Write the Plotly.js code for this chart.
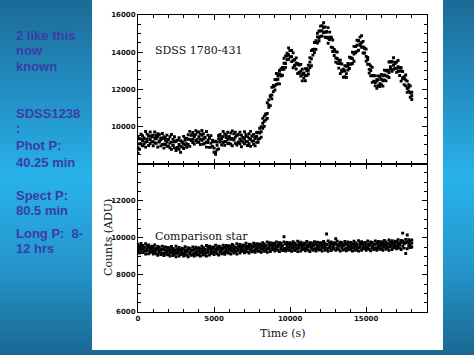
<!DOCTYPE html>
<html>
<head>
<meta charset="utf-8">
<script src="https://cdn.plot.ly/plotly-3.0.1.min.js"></script>
<style>
html,body{margin:0;padding:0;}
body{width:474px;height:355px;overflow:hidden;position:relative;
background:linear-gradient(180deg,#1c6a95 0%,#2289bd 22%,#28b2ea 50%,#2596cc 75%,#1a6892 100%);}
#panel{position:absolute;left:92px;top:0;width:351px;height:350px;background:#ffffff;}
#chart{position:absolute;left:0;top:0;width:474px;height:355px;}
</style>
</head>
<body>
<div id="panel"></div>
<div id="chart"></div>
<script>
// Observation times (s)
var time = [0,100,200,300,400,500,600,700,800,900,
1000,1100,1200,1300,1400,1500,1600,1700,1800,1900,
2000,2100,2200,2300,2400,2500,2600,2700,2800,2900,
3000,3100,3200,3300,3400,3500,3600,3700,3800,3900,
4000,4100,4200,4300,4400,4500,4600,4700,4800,4900,
5000,5100,5200,5300,5400,5500,5600,5700,5800,5900,
6000,6100,6200,6300,6400,6500,6600,6700,6800,6900,
7000,7100,7200,7300,7400,7500,7600,7700,7800,7900,
8000,8100,8200,8300,8400,8500,8600,8700,8800,8900,
9000,9100,9200,9300,9400,9500,9600,9700,9800,9900,
10000,10100,10200,10300,10400,10500,10600,10700,10800,10900,
11000,11100,11200,11300,11400,11500,11600,11700,11800,11900,
12000,12100,12200,12300,12400,12500,12600,12700,12800,12900,
13000,13100,13200,13300,13400,13500,13600,13700,13800,13900,
14000,14100,14200,14300,14400,14500,14600,14700,14800,14900,
15000,15100,15200,15300,15400,15500,15600,15700,15800,15900,
16000,16100,16200,16300,16400,16500,16600,16700,16800,16900,
17000,17100,17200,17300,17400,17500,17600,17700,17800,17900,
18000];

// Target star counts (ADU) - three samples per time step
var targetA = [9400,9330,9580,9500,9370,9720,9580,9500,9700,9500,
9520,9700,9510,9610,9560,9380,9620,9440,9390,9530,
9290,9440,9560,9300,9440,9220,9260,9390,9230,9160,
9460,9360,9350,9550,9730,9540,9670,9520,9770,9690,
9700,9580,9780,9600,9420,9720,9530,9400,9500,9250,
9170,9200,9160,9510,9560,9430,9720,9590,9540,9680,
9440,9640,9760,9600,9690,9520,9560,9690,9530,9410,
9710,9560,9450,9600,9730,9490,9570,9420,9670,9690,
9900,9980,10430,10550,10670,11270,11430,11650,12100,12200,
12520,12850,12710,13010,13110,13180,13670,13790,13940,14230,
14090,14090,13960,13600,13690,13370,13310,13340,13080,12860,
13110,13110,13300,13700,14080,14140,14520,14620,15020,15140,
15400,15430,15580,15350,15120,15320,15080,14800,14650,14150,
14020,14000,13560,13560,13360,13080,13270,13240,13390,13730,
13690,13990,14310,14300,14640,14620,14810,14890,14580,14210,
14160,13710,13350,13250,13180,12740,12720,12520,12720,12690,
12800,12730,13030,13000,13020,13470,13480,13500,13700,13450,
13470,13550,13160,13160,12960,12680,12770,12440,12240,12180,
11840];
var targetB = [8850,8770,9050,8950,9050,8880,9180,8970,9080,9170,
8960,9110,9090,8890,9160,8950,9030,8830,9040,8920,
8950,8840,8760,8970,8840,8700,8820,8760,8600,8900,
8810,8990,8870,9020,8920,9240,9130,9050,9240,9140,
9150,9020,9250,9050,9100,8880,9130,8870,8880,8920,
8610,8610,8740,8790,9160,9000,9130,8980,9190,9070,
9100,9040,8960,9270,9090,9000,9120,9060,8900,9150,
9060,9190,8970,9070,8920,9190,9030,8950,9140,9140,
9350,9420,9900,10000,10350,10430,11030,11120,11480,11870,
11960,12260,12290,12290,12710,12750,13080,13180,13590,13620,
13750,13490,13160,13270,13090,12850,12870,12710,12450,12600,
12460,12740,12820,13170,13270,13840,13980,14150,14490,14590,
14850,14870,15050,14800,14800,14480,14680,14270,14030,13820,
13460,13410,13140,12840,12960,12650,12680,12630,13040,13120,
13350,13390,13510,13970,14040,14100,14370,14260,13950,13950,
13510,13340,12870,12720,12370,12440,12180,12050,12190,12140,
12250,12170,12500,12450,12700,12630,13080,12970,13080,13120,
12910,12960,12740,12440,12560,12250,12180,11830,11890,11570,
11450];
var targetC = [8550,9060,9320,9220,9330,9150,9310,9460,9290,9440,
9180,9360,9330,9440,9220,9280,9350,9040,9250,9160,
9280,9100,9150,8990,9170,9200,8860,9020,8930,9160,
9070,9250,9070,9310,9290,9520,9310,9440,9570,9300,
9440,9310,9520,9320,9380,9150,9260,9360,9090,9190,
8830,8500,8980,9340,9220,9330,9450,9190,9400,9310,
9430,9300,9350,9290,9420,9500,9160,9320,9230,9410,
9320,9450,9170,9360,9290,9470,9210,9340,9470,9300,
9640,9710,10170,10270,10630,10700,11160,11610,11690,12140,
12180,12510,12530,12840,12770,13080,13400,13390,13800,13860,
14080,13750,13550,13290,13420,13350,12910,12970,12780,12860,
12720,13000,13020,13460,13640,14120,14160,14540,14820,14750,
15140,15160,15320,15070,15080,14750,14810,14760,14240,14090,
13680,13660,13380,13390,13020,12980,13000,12840,13250,13360,
13680,13650,13900,13990,14370,14600,14410,14520,14280,14210,
13770,13600,13070,13010,12740,12720,12360,12440,12520,12300,
12540,12460,12770,12720,12980,12900,13210,13460,13290,13390,
13130,13210,12980,12990,12620,12580,12500,12040,12100,11810,
11650];

// Comparison star counts (ADU)
var compA = [9650,9560,9690,9590,9500,9680,9540,9610,9480,9550,
9500,9610,9430,9530,9490,9380,9550,9420,9510,9440,
9480,9390,9530,9430,9350,9540,9400,9480,9360,9440,
9400,9520,9350,9460,9430,9340,9510,9390,9490,9430,
9470,9400,9540,9460,9380,9580,9450,9540,9420,9510,
9470,9600,9430,9550,9520,9430,9600,9490,9580,9530,
9570,9500,9640,9560,9480,9680,9550,9640,9520,9610,
9570,9700,9530,9650,9620,9530,9700,9590,9680,9630,
9670,9600,9740,9660,9580,9780,9650,9730,9620,9700,
9660,9780,9620,9730,9700,9600,9780,9660,9750,9690,
9730,9650,9790,9700,9620,9810,9680,9760,9640,9720,
9680,9800,9630,9740,9720,9620,9790,9670,9760,9700,
9740,9660,9800,9710,9640,9830,9700,9780,9660,9740,
9700,9820,9650,9760,9730,9630,9800,9680,9770,9710,
9750,9670,9810,9720,9650,9840,9710,9790,9670,9750,
9710,9830,9670,9780,9750,9650,9830,9710,9800,9740,
9790,9710,9850,9770,9690,9880,9760,9840,9730,9810,
9780,9900,9740,9850,9830,9730,9910,9790,9890,9830,
9880];
var compB = [9270,9180,9330,9200,9270,9120,9300,9140,9210,9240,
9120,9210,9140,9050,9200,9090,9150,9040,9170,9080,
9100,9010,9170,9040,9120,8980,9160,9010,9090,9130,
9020,9120,9060,8980,9140,9050,9110,9010,9150,9070,
9090,9020,9180,9070,9150,9020,9210,9070,9150,9200,
9090,9200,9140,9070,9230,9140,9200,9110,9240,9170,
9190,9120,9280,9170,9250,9120,9310,9170,9250,9300,
9190,9300,9240,9170,9330,9240,9300,9210,9340,9270,
9290,9220,9380,9270,9350,9220,9410,9260,9350,9390,
9280,9380,9330,9250,9410,9310,9380,9280,9410,9330,
9350,9270,9430,9310,9390,9250,9440,9290,9370,9410,
9300,9400,9340,9260,9430,9330,9390,9290,9420,9340,
9360,9280,9440,9320,9410,9270,9460,9310,9390,9430,
9320,9420,9360,9280,9440,9340,9400,9300,9430,9350,
9370,9290,9450,9330,9420,9280,9470,9320,9400,9440,
9330,9430,9380,9300,9460,9360,9430,9330,9460,9380,
9410,9330,9490,9380,9460,9320,9520,9370,9460,9500,
9400,9500,9450,9370,9540,9440,9150,9410,9550,9470,
9500];
var compC = [9480,9380,9510,9400,9460,9300,9400,9490,9330,9420,
9270,9380,9320,9410,9260,9320,9370,9180,9320,9250,
9310,9210,9350,9240,9310,9160,9260,9360,9210,9310,
9170,9290,9240,9340,9200,9280,9330,9150,9300,9240,
9300,9220,9360,9270,9340,9200,9310,9420,9270,9380,
9240,9370,9320,9430,9290,9370,9420,9250,9390,9340,
9400,9320,9460,9370,9440,9300,9410,9520,9370,9480,
9340,9470,9420,9530,9390,9470,9520,9350,9490,9440,
9500,9420,9560,9470,9540,9400,9510,9610,9470,9570,
9430,9550,9510,9610,9470,9540,10050,9420,9560,9500,
9560,9470,9610,9510,9580,9430,9540,9640,9490,9590,
9450,9570,9520,9620,9490,9560,9610,9430,9570,9510,
9570,9480,9620,9520,10200,9450,9560,9660,9510,9610,
9950,9590,9540,9640,9500,9570,9620,9440,9580,9520,
9580,9490,9630,9530,9610,9460,9570,9670,9520,9620,
9480,9600,9560,9660,9520,9590,9650,9470,9610,9550,
9620,9530,9670,9580,9650,9500,9620,9720,9580,9680,
9550,9670,9630,9730,10250,9670,9730,10150,9700,9640,
9710];

var xTicks = [0,5000,10000,15000];
var topYTicks = [10000,12000,14000,16000];
var botYTicks = [6000,8000,10000,12000];
var panelLabels = ['SDSS 1780-431','Comparison star'];
var xTitle = 'Time (s)';
var yTitle = 'Counts (ADU)';
var sideLines = ['2 like this','now','known','SDSS1238',':','Phot P:','40.25 min','Spect P:','80.5 min','Long P:  8-','12 hrs'];
var sideY = [35,50.7,66.7,113.3,128,145,162.7,195,210.7,233.3,248.3];

// geometry of plot area in pixels
var L = 138, R = 427, T = 15, B = 312;
var W = R - L, H = B - T;
function px(x){return (x - L)/W;}
function py(y){return (B - y)/H;}

var markerStyle = {color:'#000000', size:2.9, symbol:'square'};
var traces = [
  {type:'scatter', mode:'markers', xaxis:'x2', yaxis:'y2',
   x: time.concat(time, time), y: targetA.concat(targetB, targetC),
   marker: markerStyle, hoverinfo:'skip'},
  {type:'scatter', mode:'markers', xaxis:'x', yaxis:'y',
   x: time.concat(time, time), y: compA.concat(compB, compC),
   marker: markerStyle, hoverinfo:'skip'}
];

var tickFont = {family:'DejaVu Sans', size:7, color:'#111111', weight:'bold'};
function xAxis(anchor, labels){
  return {anchor:anchor, domain:[0,1], range:[0,19000], tickmode:'array', tickvals:xTicks,
    ticktext:xTicks.map(String), tickformat:'d',
    showticklabels:labels, ticks:'inside', ticklen:5, tickwidth:1, tickcolor:'#000',
    mirror:'allticks', showline:true, linecolor:'#000', linewidth:1,
    showgrid:false, zeroline:false, tickfont:tickFont,
    minor:{tickmode:'linear', tick0:0, dtick:1000, ticks:'inside', ticklen:3, tickcolor:'#000', showgrid:false}};
}
function yAxis(anchor, dom, rng, tv){
  return {anchor:anchor, domain:dom, range:rng, tickmode:'array', tickvals:tv,
    ticktext:tv.map(String), tickformat:'d',
    ticks:'inside', ticklen:5, tickwidth:1, tickcolor:'#000',
    mirror:'allticks', showline:true, linecolor:'#000', linewidth:1,
    showgrid:false, zeroline:false, tickfont:tickFont,
    minor:{tickmode:'linear', tick0:0, dtick:500, ticks:'inside', ticklen:3, tickcolor:'#000', showgrid:false}};
}

var serif = {family:'DejaVu Serif', size:11, color:'#111111'};
var annotations = [
  {text:panelLabels[0], xref:'paper', yref:'paper', x:px(153), y:py(50), xanchor:'left', yanchor:'middle', showarrow:false, font:serif},
  {text:panelLabels[1], xref:'paper', yref:'paper', x:px(153), y:py(236), xanchor:'left', yanchor:'middle', showarrow:false, font:serif},
  {text:yTitle, xref:'paper', yref:'paper', x:px(108), y:py(238), xanchor:'center', yanchor:'middle', textangle:-90, showarrow:false, font:serif},
  {text:xTitle, xref:'paper', yref:'paper', x:px(283), y:py(333), xanchor:'center', yanchor:'middle', showarrow:false, font:serif}
];
var sideFont = {family:'Liberation Sans', size:13, color:'#3b3ca8', weight:'bold'};
for (var i = 0; i < sideLines.length; i++) {
  annotations.push({text:sideLines[i], xref:'paper', yref:'paper', x:px(14), y:py(sideY[i]),
    xanchor:'left', yanchor:'middle', showarrow:false, font:sideFont});
}

var layout = {
  width:474, height:355,
  margin:{l:L, r:474-R, t:T, b:355-B, pad:0},
  paper_bgcolor:'rgba(0,0,0,0)', plot_bgcolor:'#ffffff',
  showlegend:false,
  xaxis: xAxis('y', true),
  xaxis2: Object.assign(xAxis('y2', false), {matches:'x'}),
  yaxis: yAxis('x', [0,0.5], [6000,14000], botYTicks),
  yaxis2: yAxis('x2', [0.5,1], [8000,16000], topYTicks),
  annotations: annotations
};

Plotly.newPlot('chart', traces, layout, {staticPlot:true, displayModeBar:false});
</script>
</body>
</html>
